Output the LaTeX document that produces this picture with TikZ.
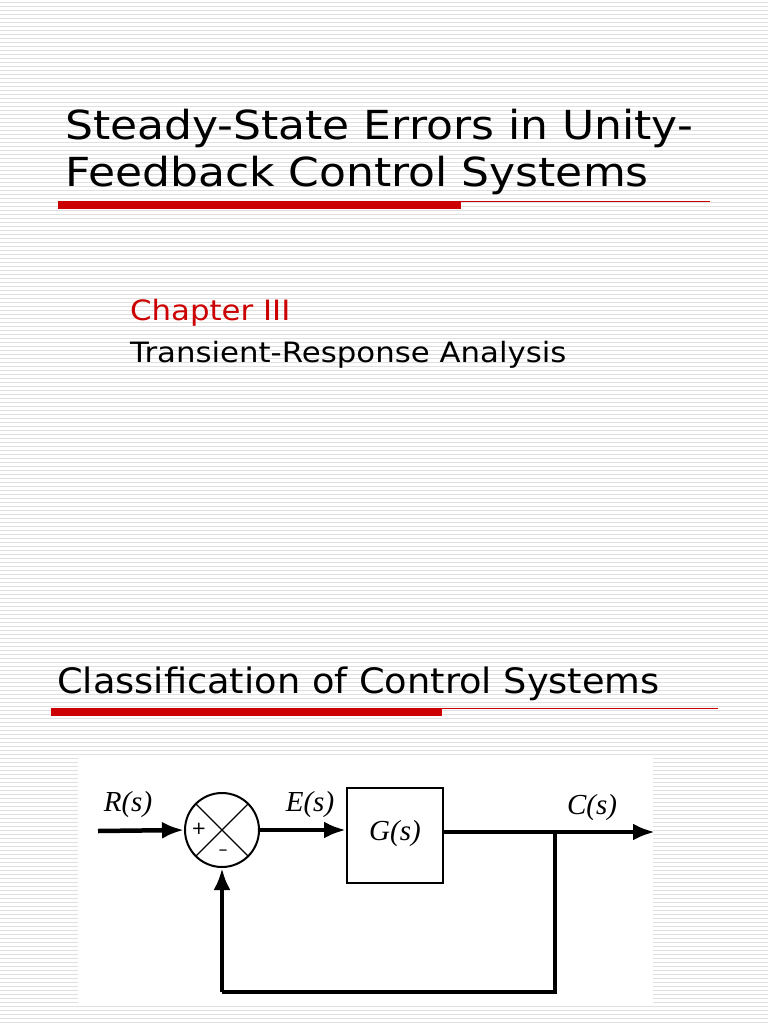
\documentclass[tikz,border=0pt]{standalone}
\usepackage{fontspec}
\setmainfont{DejaVu Sans}
\newfontfamily\wideA[FakeStretch=1.1]{DejaVu Sans}
\newfontfamily\wideB[FakeStretch=1.05]{DejaVu Sans}
\newfontfamily\tms{Liberation Serif}
\usetikzlibrary{arrows.meta}
\definecolor{pptred}{RGB}{204,0,0}
\begin{document}
\begin{tikzpicture}[x=1pt,y=-1pt,
  lbl/.style={font=\tms\fontsize{29}{29}\selectfont\itshape, inner sep=0},
  sig/.style={line width=4.5pt},
  arr/.style={sig,-{Latex[length=22pt,width=17pt]}}]
\useasboundingbox (0,0) rectangle (768,1024);
\fill[white] (0,0) rectangle (768,1024);
\foreach \i in {0,...,255} \draw[black!12,line width=0.8pt] (0,\i*4+2) -- (768,\i*4+2);
% titles
\node[anchor=base west,inner sep=0,font=\wideA\fontsize{40}{40}\selectfont] (t1) at (65,140) {Steady-State Errors in Unity-};
\node[anchor=base west,inner sep=0,font=\wideA\fontsize{40}{40}\selectfont] (t2) at (65,187) {Feedback Control Systems};
\fill[pptred] (58,201) rectangle (461,209);
\draw[pptred,line width=1pt] (58,201.5) -- (710,201.5);
\node[anchor=base west,inner sep=0,text=pptred,font=\wideA\fontsize{28}{28}\selectfont] (ch) at (130,320) {Chapter III};
\node[anchor=base west,inner sep=0,font=\wideA\fontsize{28}{28}\selectfont] (tr) at (130,362) {Transient-Response Analysis};
\node[anchor=base west,inner sep=0,font=\wideB\fontsize{35}{35}\selectfont] (cl) at (57,693) {Classification of Control Systems};
\fill[pptred] (51,708) rectangle (442,716);
\draw[pptred,line width=1pt] (51,708.5) -- (718,708.5);
% diagram
\fill[white] (78,756) rectangle (653,1006);
\node[draw,circle,minimum size=74pt,line width=2pt,inner sep=0] (sum) at (222,830) {};
\draw[line width=1.2pt] (sum.45) -- (sum.225) (sum.135) -- (sum.315);
\node[font=\fontsize{18}{18}\selectfont] at (199,829) {+};
\node[font=\fontsize{18}{18}\selectfont] at (223,853) {--};
\node[draw,line width=2pt,minimum width=96pt,minimum height=95pt,inner sep=0] (G) at (395,835) {};
\node[lbl] at (395,834) {G(s)};
\coordinate (in) at (98,831);
\coordinate (out) at (655,832);
\coordinate (br) at (555,832);
\coordinate (bl) at (555,992);
\coordinate (bb) at (222,992);
\draw[arr] (in) -- (sum.west);
\draw[arr] (sum.east) -- (G.west|-sum.east);
\draw[arr] (G.east|-out) -- (out);
\draw[sig] (br) -- (bl) -- (bb);
\draw[arr] (bb) -- (sum.south);
\node[lbl] at (128,805) {R(s)};
\node[lbl] at (310,805) {E(s)};
\node[lbl] at (592,808) {C(s)};
\end{tikzpicture}
\end{document}
